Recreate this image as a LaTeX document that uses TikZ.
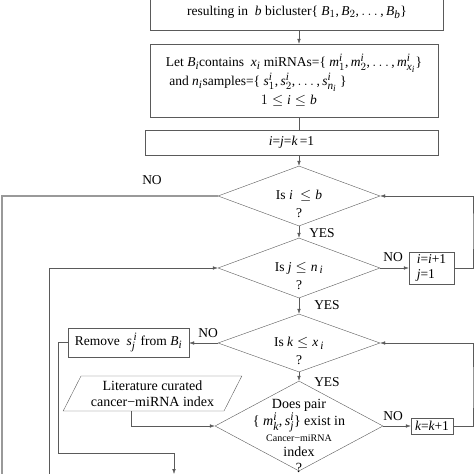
\documentclass[tikz,border=0pt]{standalone}
\usepackage{fontspec}
\setmainfont{Liberation Serif}
\usepackage[italic]{mathastext}
\usetikzlibrary{shapes.geometric,arrows.meta}

\definecolor{flowgrey}{HTML}{5A5A5A}
\newcommand{\fsz}{\fontsize{13.5}{18}\selectfont}

\begin{document}
\begin{tikzpicture}[x=1pt,y=-1pt,
  box/.style={draw=flowgrey,font=\fsz,inner sep=2pt},
  decision/.style={draw=flowgrey,diamond,inner sep=0pt},
  flow/.style={draw=flowgrey,-{Latex[length=5pt,width=3.5pt]}},
  plain/.style={draw=flowgrey},
  lbl/.style={font=\fsz,inner sep=0pt}]

  \useasboundingbox (0,0) rectangle (474,474);

  % blocks
  \node[box,minimum width=293,minimum height=36] (res) at (297,12)
    {resulting in \ $b$ bicluster\{ $B_1, B_2, \ldots, B_b$\}};
  \node[box,minimum width=288,minimum height=73,align=left,
    font=\fontsize{13.5}{19}\selectfont] (let) at (294,80.5)
    {Let $B_i$contains \ $x_i$ miRNAs=\{ $m_1^i, m_2^i, \ldots, m_{x_i}^i$\}\\
     \ and $n_i$samples=\{ $s_1^i, s_2^i, \ldots, s_{n_i}^i$ \}\\
     \hspace*{95pt}$1 \le i \le b$};
  \node[box,minimum width=293,minimum height=25] (init) at (291.5,142.5)
    {$i$=$j$=$k$\,=1};
  \node[box,align=left,minimum width=45,minimum height=32,inner sep=1pt,
    font=\fontsize{13.5}{15}\selectfont] (incr) at (431.5,268) {$i$=$i$+1\\$j$=1};
  \node[box,minimum width=42,minimum height=16,inner sep=1pt] (incrk) at (432,426)
    {$k$=$k$+1};
  \node[box,minimum width=121,minimum height=29] (rem) at (128.5,342.5)
    {Remove \ $s_j^{\,i}$ from $B_i$};
  \node[box,trapezium,trapezium left angle=62,trapezium right angle=118,
    trapezium stretches=true,minimum width=179,minimum height=35,align=center,
    font=\fontsize{14}{16}\selectfont] (lit) at (152.5,393.5)
    {Literature curated\\cancer−miRNA index};

  % decisions
  \node[decision,minimum width=162,minimum height=60] (d1) at (299,196) {};
  \node[decision,minimum width=162,minimum height=60] (d2) at (299,268) {};
  \node[decision,minimum width=162,minimum height=58] (d3) at (299,343) {};
  \node[decision,minimum width=168,minimum height=90] (d4) at (299,426) {};
  \node[lbl,align=center] (d1t) at (299,204) {Is $i\ \le b$\\?};
  \node[lbl,align=center] (d2t) at (299,276) {Is $j \le n_{\,i}$\\?};
  \node[lbl,align=center] (d3t) at (299,351) {Is $k \le x_{\,i}$\\?};
  \node[lbl,align=center,font=\fontsize{14}{15.5}\selectfont] (d4t) at (299,436)
    {Does pair\\\{ $m_k^i, s_j^i$\} exist in\\
     {\fontsize{10}{11}\selectfont Cancer−miRNA}\\index\\?};

  % loose ends
  \coordinate (outl) at (2,480);
  \coordinate (retl) at (49,480);
  \coordinate (rt1) at (473,230);
  \coordinate (rt2) at (473,390);
  \coordinate (rb1) at (58,453);
  \coordinate (rb2) at (174,474);

  % connectors
  \draw[flow] (res.south -| d1.north) -- (let.north -| d1.north);
  \draw[plain] (let.south -| d1.north) -- (init.north -| d1.north);
  \draw[flow] (init.south -| d1.north) -- (d1.north);
  \draw[flow] (d1.south) -- (d2.north);
  \draw[flow] (d2.south) -- (d3.north);
  \draw[flow] (d3.south) -- (d4.north);
  \draw[flow] (d2.east) -- (d2.east -| incr.west);
  \draw[flow] (d4.east) -- (d4.east -| incrk.west);
  \draw[flow] (d3.west) -- (d3.west -| rem.east);
  \draw[draw=black!40,line width=1.5pt] (d1.west) -| (outl);
  \draw[flow] (retl) |- (d2.west);
  \draw[flow] (incr.east) -| (rt1) |- (d1.east);
  \draw[flow] (incrk.east) -| (rt2) |- (d3.east);
  \draw[flow] (rem.west) -| (rb1) -| (rb2);
  \draw[flow] ([xshift=-21pt]lit.south) |- (d4.west);

  % labels
  \node[lbl] (no1) at (152,180) {NO};
  \node[lbl] (yes1) at (322,233) {YES};
  \node[lbl] (no2) at (393,257) {NO};
  \node[lbl] (yes2) at (327,305) {YES};
  \node[lbl] (no3) at (208,333) {NO};
  \node[lbl] (yes3) at (327,382) {YES};
  \node[lbl] (no4) at (393,416) {NO};

\end{tikzpicture}
\end{document}
